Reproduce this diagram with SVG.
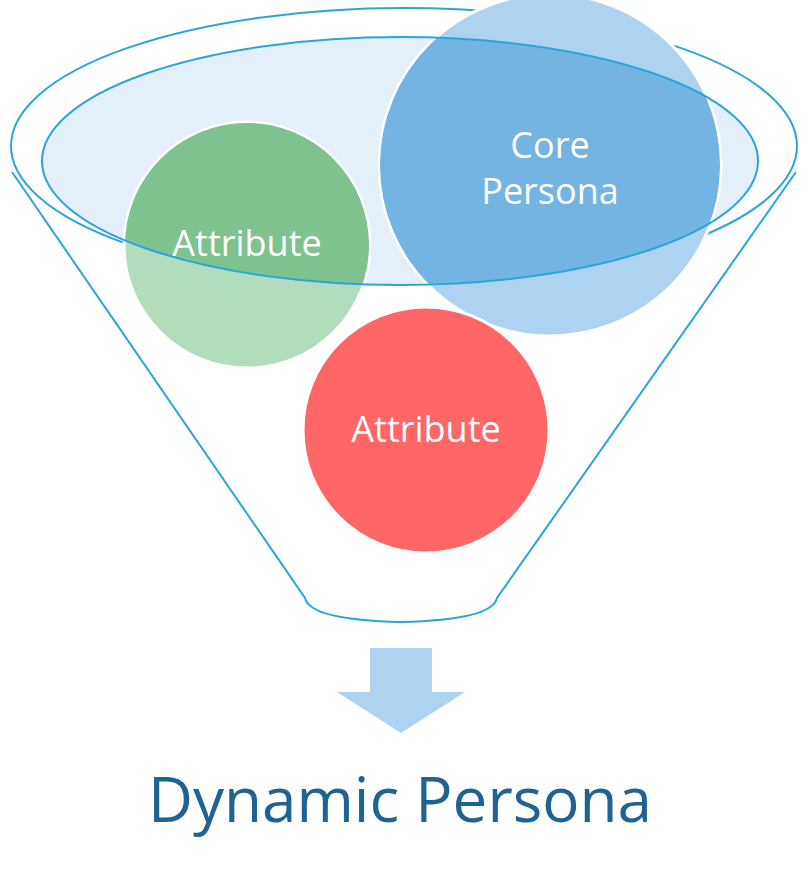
<svg xmlns="http://www.w3.org/2000/svg" width="808" height="890" viewBox="0 0 808 890">
<style>
.lbl{font-family:"Open Sans","Liberation Sans",sans-serif;fill:#fff;font-size:36px;text-anchor:middle}
.ln{fill:none;stroke:#2AA5DC;stroke-width:2}
</style>
<defs>
<clipPath id="inE"><ellipse cx="400" cy="161" rx="358" ry="124"/></clipPath>
</defs>
<rect width="808" height="890" fill="#fff"/>
<g id="funnel">
<path class="ln" d="M12,172 L305,598 Q310,620 401,622 Q492,620 497,598 L796,172" fill="#fff"/>
<ellipse cx="404" cy="146" rx="393" ry="138" fill="#fff" stroke="#2AA5DC" stroke-width="2"/>
<ellipse cx="400" cy="161" rx="358" ry="124" fill="#E3EFF9"/>
</g>
<g id="green">
<circle cx="247" cy="245" r="123" fill="#B1DDBC" stroke="#fff" stroke-width="3"/>
<circle cx="247" cy="245" r="122" fill="#7EC38F" clip-path="url(#inE)"/>
<text class="lbl" x="247" y="256">Attribute</text>
</g>
<g id="core">
<circle cx="550" cy="165" r="171" fill="#AED3F0" stroke="#fff" stroke-width="3"/>
<circle cx="550" cy="165" r="170" fill="#74B4E3" clip-path="url(#inE)"/>
<text class="lbl" x="550" y="158">Core</text>
<text class="lbl" x="550" y="204">Persona</text>
</g>
<g id="connectors">
<ellipse class="ln" cx="400" cy="161" rx="358" ry="124"/>
<path d="M370,648 H432 V692 H465 L401,733 L337,692 H370 Z" fill="#AED3F0"/>
</g>
<g id="red">
<circle cx="426" cy="430" r="123" fill="#FF6666" stroke="#fff" stroke-width="3"/>
<text class="lbl" x="426" y="442">Attribute</text>
</g>
<text x="400" y="822" font-family="'Open Sans','Liberation Sans',sans-serif" font-size="62" fill="#1F6393" text-anchor="middle">Dynamic Persona</text>
</svg>
